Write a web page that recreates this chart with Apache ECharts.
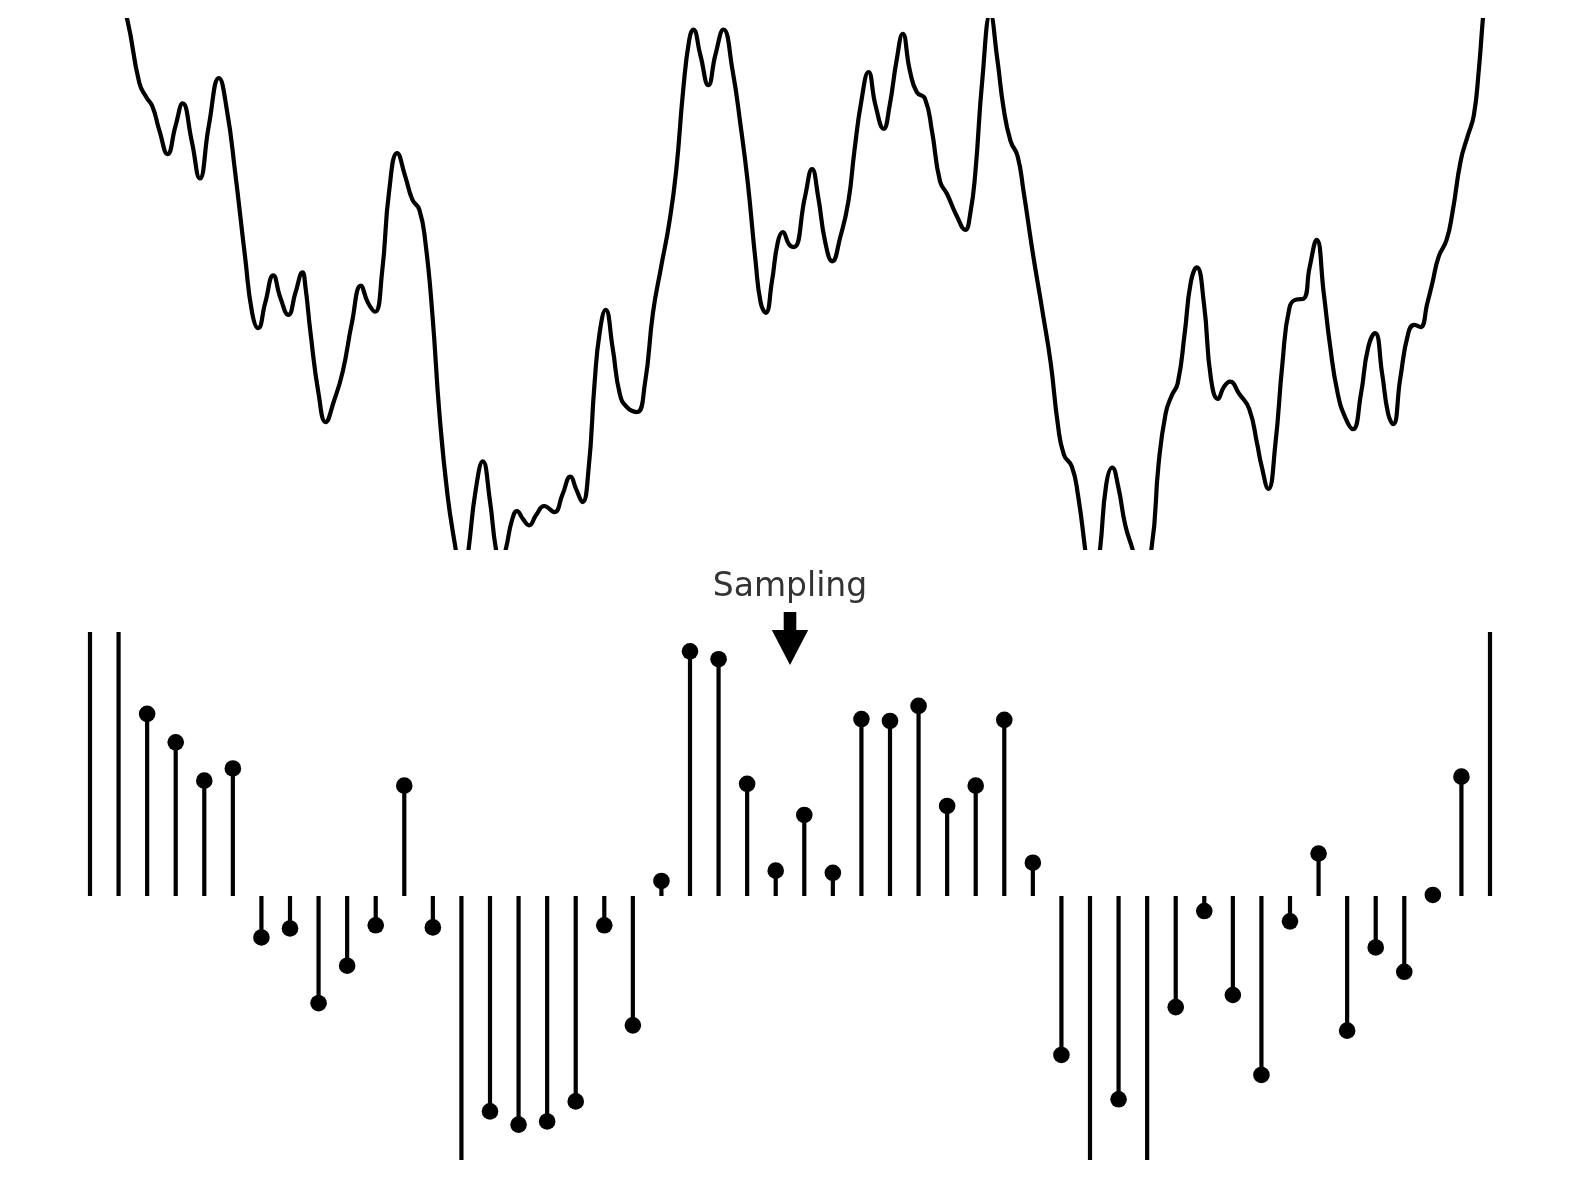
<!DOCTYPE html>
<html>
<head>
<meta charset="utf-8">
<script src="https://cdn.jsdelivr.net/npm/echarts@6/dist/echarts.min.js"></script>
<style>
html,body{margin:0;padding:0;background:#fff;}
#chart{width:1580px;height:1180px;}
</style>
</head>
<body>
<div id="chart"></div>
<script>
// Continuous signal (x in sample-index units, y in signal units)
const curveX = [0, 0.670, 1.304, 1.727, 1.974, 2.185, 2.432, 2.714, 2.996, 3.243, 3.560, 3.842, 4.159, 4.512, 4.794, 5.076, 5.428, 5.675, 5.886, 6.133, 6.415, 6.662, 6.944, 7.191, 7.437, 7.543, 7.719, 8.001, 8.248, 8.530, 8.847, 9.165, 9.482, 9.729, 9.975, 10.222, 10.469, 10.751, 11.033, 11.280, 11.526, 11.738, 11.985, 12.231, 12.513, 12.795, 13.042, 13.253, 13.500, 13.747, 13.994, 14.205, 14.381, 14.558, 14.769, 14.945, 15.157, 15.368, 15.615, 15.897, 16.250, 16.532, 16.814, 17.025, 17.237, 17.448, 17.659, 17.836, 18.047, 18.294, 18.541, 18.787, 19.140, 19.422, 19.704, 19.986, 20.268, 20.515, 20.761, 20.973, 21.114, 21.361, 21.643, 21.889, 22.171, 22.488, 22.771, 23.017, 23.299, 23.475, 23.652, 23.863, 24.075, 24.251, 24.463, 24.639, 25.026, 25.273, 25.485, 25.732, 25.978, 26.260, 26.542, 26.754, 27.000, 27.247, 27.494, 27.776, 27.987, 28.234, 28.446, 28.692, 28.939, 29.221, 29.468, 29.750, 29.996, 30.349, 30.631, 30.808, 30.984, 31.230, 31.512, 31.759, 31.971, 32.217, 32.464, 32.675, 32.993, 33.345, 33.627, 33.874, 34.085, 34.367, 34.579, 34.826, 35.072, 35.354, 35.566, 35.777, 35.989, 36.235, 36.482, 36.800, 37.152, 37.399, 37.645, 37.857, 38.068, 38.315, 38.527, 38.738, 38.985, 39.232, 39.478, 39.690, 39.901, 40.219, 40.571, 40.853, 40.994, 41.241, 41.488, 41.735, 41.981, 42.228, 42.475, 42.686, 42.933, 43.180, 43.391, 43.673, 43.955, 44.202, 44.484, 44.730, 44.977, 45.224, 45.436, 45.612, 45.859, 46.140, 46.352, 46.564, 46.810, 46.987, 47.198, 47.480, 47.691, 47.973, 48.220, 48.432, 48.608, 48.749, 49];
const curveY = [1.615, 1.251, 1.002, 0.761, 0.707, 0.672, 0.580, 0.492, 0.600, 0.684, 0.542, 0.400, 0.600, 0.780, 0.657, 0.427, 0.102, -0.109, -0.167, -0.071, 0.033, -0.052, -0.117, -0.033, 0.044, -0.013, -0.186, -0.416, -0.523, -0.446, -0.331, -0.148, -0.006, -0.071, -0.105, 0.044, 0.351, 0.496, 0.408, 0.320, 0.282, 0.159, -0.117, -0.492, -0.799, -1.002, -1.163, -1.002, -0.780, -0.672, -0.818, -1.002, -1.067, -1.002, -0.895, -0.860, -0.891, -0.914, -0.875, -0.841, -0.864, -0.799, -0.730, -0.780, -0.826, -0.703, -0.377, -0.186, -0.098, -0.243, -0.416, -0.466, -0.485, -0.377, -0.109, 0.063, 0.228, 0.427, 0.734, 0.925, 0.964, 0.868, 0.753, 0.868, 0.964, 0.810, 0.600, 0.389, 0.082, -0.071, -0.109, 0.006, 0.159, 0.197, 0.151, 0.140, 0.331, 0.435, 0.331, 0.159, 0.086, 0.178, 0.312, 0.504, 0.695, 0.803, 0.676, 0.588, 0.676, 0.849, 0.948, 0.810, 0.726, 0.703, 0.580, 0.389, 0.341, 0.255, 0.205, 0.266, 0.418, 0.772, 1.021, 0.849, 0.669, 0.542, 0.485, 0.351, 0.121, -0.109, -0.301, -0.531, -0.646, -0.692, -0.799, -1.002, -1.220, -1.002, -0.761, -0.695, -0.768, -0.914, -1.002, -1.125, -1.002, -0.684, -0.492, -0.423, -0.377, -0.186, 0.006, 0.063, -0.071, -0.358, -0.435, -0.389, -0.370, -0.416, -0.473, -0.607, -0.684, -0.776, -0.607, -0.301, -0.090, -0.059, -0.056, 0.063, 0.167, -0.033, -0.224, -0.416, -0.511, -0.550, -0.416, -0.243, -0.186, -0.339, -0.492, -0.531, -0.358, -0.186, -0.155, -0.163, -0.071, 0.006, 0.102, 0.167, 0.274, 0.466, 0.561, 0.638, 0.810, 1.002, 1.308];

// Sampled values (one per sample index 0..49)
const sampleValues = [1.62, 1.12, 0.690, 0.582, 0.437, 0.483, -0.157, -0.123, -0.406, -0.264, -0.111, 0.418, -0.119, -1.15, -0.816, -0.866, -0.854, -0.778, -0.111, -0.490, 0.057, 0.927, 0.897, 0.425, 0.096, 0.307, 0.088, 0.670, 0.663, 0.720, 0.341, 0.418, 0.667, 0.126, -0.602, -1.20, -0.770, -1.08, -0.421, -0.057, -0.375, -0.678, -0.096, 0.161, -0.510, -0.195, -0.287, 0.004, 0.452, 1.30];

const annotationText = 'Sampling';

const curveData = curveX.map((x, i) => [x, curveY[i]]);
const stemData = sampleValues.map((v, i) => [i, v]);

const chart = echarts.init(document.getElementById('chart'), null, {renderer: 'canvas'});
const LW = 4.2;
chart.setOption({
  animation: false,
  backgroundColor: '#ffffff',
  grid: [
    {left: 90, width: 1400, top: 20, height: 528},
    {left: 90, width: 1400, top: 632, height: 528}
  ],
  xAxis: [
    {type: 'value', gridIndex: 0, min: 0, max: 49, show: false},
    {type: 'value', gridIndex: 1, min: 0, max: 49, show: false}
  ],
  yAxis: [
    {type: 'value', gridIndex: 0, min: -1, max: 1, show: false},
    {type: 'value', gridIndex: 1, min: -1, max: 1, show: false}
  ],
  series: [
    {
      type: 'line',
      xAxisIndex: 0, yAxisIndex: 0,
      data: curveData,
      smooth: 0.5,
      symbol: 'none',
      clip: true,
      lineStyle: {color: '#000', width: LW}
    },
    {
      type: 'custom',
      xAxisIndex: 1, yAxisIndex: 1,
      data: stemData,
      renderItem: function (params, api) {
        const i = api.value(0), v = api.value(1);
        const cs = params.coordSys;
        const base = api.coord([i, 0]);
        const tip = api.coord([i, v]);
        const yTop = cs.y, yBot = cs.y + cs.height;
        const yc = Math.max(yTop, Math.min(yBot, tip[1]));
        const children = [{
          type: 'line',
          shape: {x1: base[0], y1: base[1], x2: base[0], y2: yc},
          style: {stroke: '#000', lineWidth: LW, lineCap: 'butt'}
        }];
        if (tip[1] >= yTop && tip[1] <= yBot) {
          children.push({type: 'circle', shape: {cx: tip[0], cy: tip[1], r: 8.3}, style: {fill: '#000'}});
        }
        return {type: 'group', children: children};
      }
    }
  ],
  graphic: [
    {
      type: 'text',
      style: {
        x: 790, y: 587,
        text: annotationText,
        fill: '#333333',
        font: '33px "DejaVu Sans"',
        align: 'center',
        verticalAlign: 'middle'
      }
    },
    {
      type: 'polygon',
      shape: {points: [[783.7, 612], [796.3, 612], [796.3, 630], [808.2, 630], [790, 665], [771.8, 630], [783.7, 630]]},
      style: {fill: '#000'}
    }
  ]
});
</script>
</body>
</html>
